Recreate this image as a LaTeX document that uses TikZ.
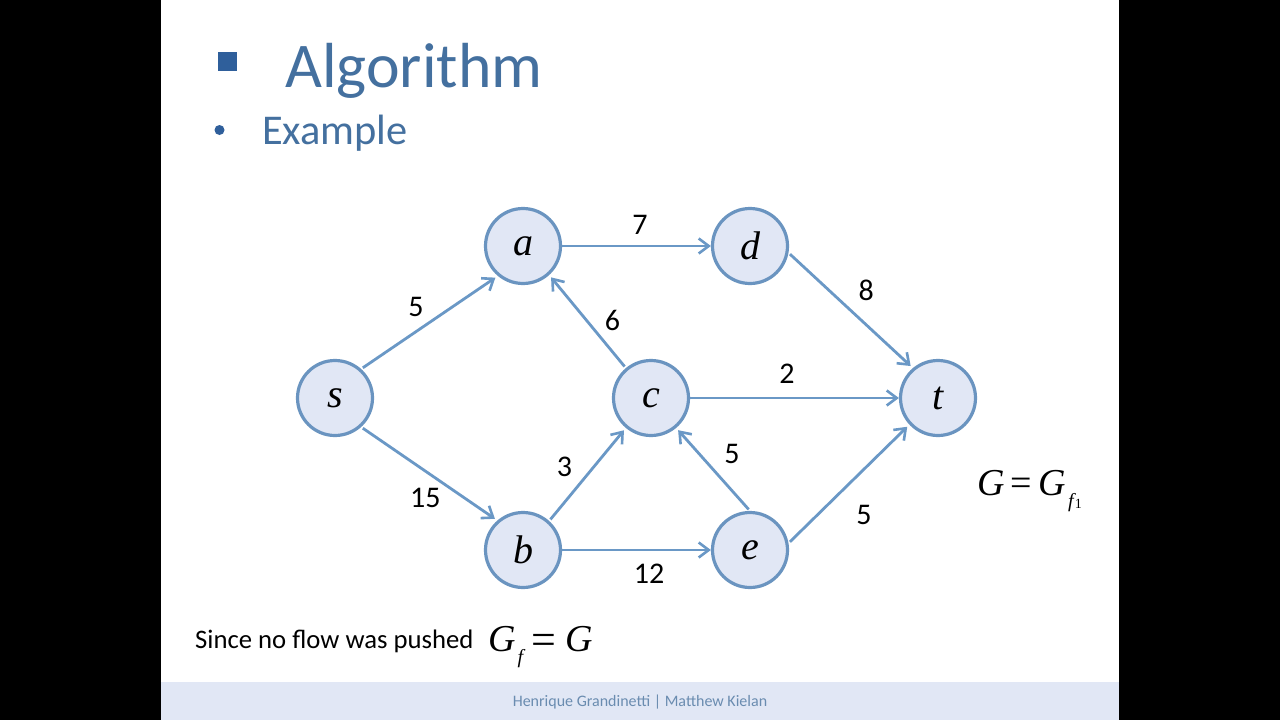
\documentclass[tikz,border=0pt]{standalone}
\usepackage{fontspec}
\setmainfont{Carlito}
\newfontfamily\mathserif{Liberation Serif}
\usetikzlibrary{positioning,arrows.meta}
\definecolor{edgeblue}{HTML}{6A98C6}
\definecolor{ringblue}{HTML}{6A94C0}
\definecolor{fillblue}{HTML}{E1E7F5}
\definecolor{titleblue}{HTML}{44709F}
\definecolor{bulletblue}{HTML}{2F5F9B}
\definecolor{footertext}{HTML}{6A8CB0}
\tikzset{
  vertex/.style={circle,draw=ringblue,fill=fillblue,line width=3.2pt,minimum size=75pt,inner sep=0pt,font=\mathserif\itshape\fontsize{40}{40}\selectfont},
  flow/.style={edgeblue,line width=2.8pt,shorten <=2pt,shorten >=3pt,-{Straight Barb[length=10pt,width=15pt,line width=2.6pt]}},
  level/.style={flow,shorten <=0pt,shorten >=0pt},
  weight/.style={font=\fontsize{30}{30}\selectfont,text=black,inner sep=0pt},
  formula/.style={font=\mathserif\itshape\fontsize{38}{38}\selectfont,text=black,inner sep=0pt}
}
\begin{document}
\begin{tikzpicture}
  \useasboundingbox (0pt,0pt) rectangle (1280pt,-720pt);
  \fill[black] (0pt,0pt) rectangle (1280pt,-720pt);
  \fill[white] (161pt,0pt) rectangle (1119pt,-720pt);
  \fill[fillblue] (161pt,-682pt) rectangle (1119pt,-720pt);
  % heading
  \node[fill=bulletblue,minimum size=19pt,inner sep=0pt](titlemark) at (227.5pt,-61.5pt){};
  \node[anchor=base west,inner sep=0pt,text=titleblue,font=\fontsize{63.7}{64}\selectfont](title) at (285pt,-87pt){Algorithm};
  \node[circle,fill=bulletblue,minimum size=10pt,inner sep=0pt](itemmark) at (219.5pt,-130pt){};
  \node[anchor=base west,inner sep=0pt,text=titleblue,font=\fontsize{42.4}{43}\selectfont](item) at (262pt,-144pt){Example};
  % vertices
  \draw (335pt,-398pt)node[vertex](s){s};
  \draw (523pt,-246pt)node[vertex](a){a};
  \draw (523pt,-550pt)node[vertex](b){b};
  \draw (651pt,-398pt)node[vertex](c){c};
  \draw (750pt,-246pt)node[vertex](d){d};
  \draw (750pt,-550pt)node[vertex](e){e};
  \draw (938pt,-398pt)node[vertex](t){t};
  % edges
  \path[flow] (s.48) edge node[weight,xshift=-13.5pt,yshift=15.5pt]{5}(a.230);
  \path[flow] (s.-48) edge node[weight,xshift=-4pt,yshift=-24.5pt]{15}(b.131);
  \path[level] (a.east) edge node[weight,xshift=3.5pt,yshift=21pt]{7}(d.west);
  \path[flow] (c.130) edge node[weight,xshift=25pt,yshift=1pt]{6}(a.-48);
  \path[flow] (b.48) edge node[weight,xshift=-23pt,yshift=7.5pt]{3}(c.230);
  \path[level] (b.east) edge node[weight,xshift=12.5pt,yshift=-24pt]{12}(e.west);
  \path[flow] (e.north) edge node[weight,xshift=19pt,yshift=15pt]{5}(c.-50);
  \path[level] (c.east) edge node[weight,xshift=-7.5pt,yshift=24pt]{2}(t.west);
  \path[flow] (d.-10) edge node[weight,xshift=15.5pt,yshift=20.5pt]{8}(t.130);
  \path[flow] (e.10) edge node[weight,xshift=15pt,yshift=-31.5pt]{5}(t.223);
  % formulas
  \node[formula,anchor=base west](gleft) at (977pt,-495pt){G\,{\upshape =}\,G\raisebox{-12pt}{\fontsize{20}{20}\selectfont\kern2pt f\kern1pt\raisebox{-1pt}{\upshape\fontsize{14}{14}\selectfont 1}}};
  \node[anchor=base west,inner sep=0pt,text=black,font=\fontsize{26.7}{27}\selectfont](since) at (195pt,-648pt){Since no flow was pushed};
  \node[formula,anchor=base west](gright) at (488pt,-651pt){G\raisebox{-12pt}{\fontsize{20}{20}\selectfont\kern2pt f}\kern8pt\raisebox{-3pt}{\upshape\fontsize{44}{44}\selectfont =}\kern9pt G};
  \node[inner sep=0pt,text=footertext,font=\fontsize{16}{16}\selectfont](footer) at (640pt,-702pt){Henrique Grandinetti | Matthew Kielan};
\end{tikzpicture}
\end{document}
